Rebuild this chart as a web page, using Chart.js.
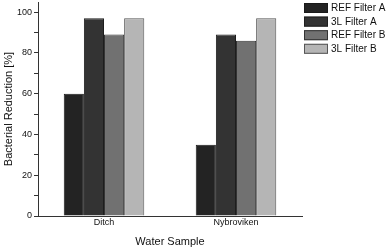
<!DOCTYPE html>
<html>
<head>
<meta charset="utf-8">
<script src="https://cdn.jsdelivr.net/npm/chart.js@4"></script>
<style>
  html, body { margin: 0; padding: 0; background: #fff; }
  #wrap { width: 392px; height: 248px; }
</style>
</head>
<body>
<div id="wrap"><canvas id="chart"></canvas></div>
<script>
// Data
const samples = ['Ditch', 'Nybroviken'];
const refFilterA = [60, 35];
const l3FilterA = [97, 89];
const refFilterB = [89, 86];
const l3FilterB = [97, 97];
const yTicks = [0, 20, 40, 60, 80, 100];

const FONT = "'Liberation Sans', Arial, sans-serif";

// legend drawn by hand in the right margin, like the original figure
const sideLegend = {
    id: 'sideLegend',
    afterDraw(chart) {
        const ctx = chart.ctx;
        ctx.save();
        ctx.font = '10px ' + FONT;
        ctx.textBaseline = 'middle';
        chart.data.datasets.forEach((ds, i) => {
            const y = 3 + i * 13.6;
            ctx.fillStyle = ds.backgroundColor;
            ctx.fillRect(304, y, 24, 10);
            ctx.strokeStyle = ds.borderColor;
            ctx.lineWidth = 1;
            ctx.strokeRect(304.5, y + 0.5, 23, 9);
            ctx.fillStyle = '#111';
            ctx.fillText(ds.label, 331, y + 5.5);
        });
        ctx.restore();
    }
};

new Chart(document.getElementById('chart'), {
    type: 'bar',
    data: {
        labels: samples,
        datasets: [
            { label: 'REF Filter A', data: refFilterA, backgroundColor: '#232323', borderColor: '#1a1a1a' },
            { label: '3L Filter A', data: l3FilterA, backgroundColor: '#333333', borderColor: '#1e1e1e' },
            { label: 'REF Filter B', data: refFilterB, backgroundColor: '#717171', borderColor: '#333333' },
            { label: '3L Filter B', data: l3FilterB, backgroundColor: '#b5b5b5', borderColor: '#555555' }
        ]
    },
    plugins: [sideLegend],
    options: {
        responsive: true,
        maintainAspectRatio: false,
        animation: false,
        datasets: { bar: { borderWidth: 1, barPercentage: 1, categoryPercentage: 0.61 } },
        layout: { padding: { top: 2, right: 90, left: 0, bottom: 1 } },
        plugins: {
            tooltip: { enabled: false },
            legend: { display: false }
        },
        scales: {
            x: {
                grid: { display: false, drawTicks: false },
                border: { color: '#333', width: 1 },
                ticks: { color: '#111', padding: 2, font: { family: FONT, size: 9, lineHeight: 1 } },
                title: { display: true, text: 'Water Sample', color: '#111', padding: { top: 7, bottom: 0 }, font: { family: FONT, size: 11, lineHeight: 1 } }
            },
            y: {
                min: 0,
                max: 105,
                afterBuildTicks: (scale) => {
                    scale.ticks = [];
                    for (let v = 0; v <= 100; v += 10) scale.ticks.push({ value: v });
                },
                // top tick is 100, not the axis end, so no room is needed above it
                afterFit: (scale) => { scale.paddingTop = 0; },
                grid: { drawOnChartArea: false, drawTicks: true, tickLength: 4, color: '#333' },
                border: { color: '#333', width: 1 },
                ticks: {
                    color: '#111',
                    padding: 2,
                    font: { family: FONT, size: 9 },
                    callback: (v) => yTicks.includes(v) ? v : ''
                },
                title: { display: true, text: 'Bacterial Reduction [%]', color: '#111', padding: { top: 3, bottom: 1 }, font: { family: FONT, size: 11, lineHeight: 1 } }
            }
        }
    }
});
</script>
</body>
</html>
